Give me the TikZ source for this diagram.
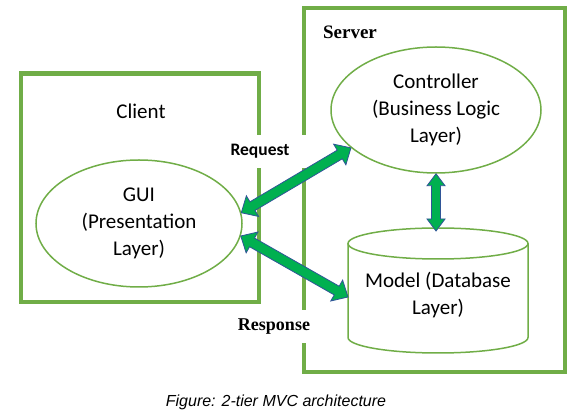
\documentclass[tikz,border=0pt]{standalone}
\usepackage{fontspec}
\setmainfont{Carlito}
\newfontfamily\timesfont{Liberation Serif}
\newfontfamily\arialfont{Liberation Sans}
\usetikzlibrary{calc,shapes.geometric}
\definecolor{boxgreen}{HTML}{70AD47}
\definecolor{arrowgreen}{HTML}{00B050}
\definecolor{arrowedge}{HTML}{2F5597}

% double block arrow: from, to, head length, head half width, shaft half width
\newcommand{\dblarrow}[5]{%
    \draw[blockarrow] (#1)
    -- ($(#1)!#3!(#2)!#4!90:(#2)$)
    -- ($(#1)!#3!(#2)!#5!90:(#2)$)
    -- ($(#2)!#3!(#1)!#5!-90:(#1)$)
    -- ($(#2)!#3!(#1)!#4!-90:(#1)$)
    -- (#2)
    -- ($(#2)!#3!(#1)!#4!90:(#1)$)
    -- ($(#2)!#3!(#1)!#5!90:(#1)$)
    -- ($(#1)!#3!(#2)!#5!-90:(#2)$)
    -- ($(#1)!#3!(#2)!#4!-90:(#2)$)
    -- cycle;}

\begin{document}
\begin{tikzpicture}[x=1pt,y=1pt,
    tier/.style={draw=boxgreen, line width=4.5pt},
    outline/.style={draw=boxgreen, line width=1.5pt},
    part/.style={ellipse, outline, inner sep=0pt, align=center},
    blockarrow/.style={fill=arrowgreen, draw=arrowedge, line width=0.8pt, line join=miter},
    gap/.style={fill=white, inner sep=0pt, minimum height=33pt}]
    \useasboundingbox (0,0) rectangle (581,412);
    \fontsize{21}{27}\selectfont
    % Draw the two tiers
    \draw[tier] (21,338.5) rectangle (259,110);
    \draw[tier] (304,404) rectangle (565,40);
    \node (client) at (141,301) {Client};
    \node[font={\timesfont\bfseries\fontsize{19}{23}\selectfont}] (server) at (350,380) {Server};
    % Labels that break the box lines
    \node[gap, minimum width=96pt, font={\bfseries\fontsize{17.5}{21}\selectfont}] (request) at (260,260.5) {Request};
    \node[gap, font={\timesfont\bfseries\fontsize{18}{22}\selectfont}] (response) at (274,85.5) {Response};
    % Draw the view and the controller
    \node[part, minimum width=206pt, minimum height=127pt] (gui) at (139,188.5) {GUI\\(Presentation\\Layer)};
    \node[part, minimum width=210pt, minimum height=126pt] (ctrl) at (436,302) {Controller\\(Business Logic\\Layer)};
    % Draw the database
    \draw[outline] (348,168.5) -- (348,74.5)
    arc[start angle=180, end angle=360, x radius=90, y radius=15.5] -- (528,168.5);
    \draw[outline] (438,168.5) ellipse[x radius=90, y radius=15.5];
    \node[align=center] (model) at (438,117) {Model (Database\\Layer)};
    \coordinate (modeltop) at (436,181);
    \coordinate (modelside) at (348,115);
    % Draw the arrows
    \dblarrow{gui.6}{ctrl.204}{13pt}{12pt}{5pt}
    \dblarrow{gui.-7}{modelside}{13pt}{12pt}{5pt}
    \dblarrow{ctrl.south}{modeltop}{12pt}{9pt}{4.5pt}
    % Caption
    \node[font={\arialfont\itshape\fontsize{16}{19}\selectfont}] (caption) at (276,10) {Figure: 2-tier MVC architecture};
\end{tikzpicture}
\end{document}
